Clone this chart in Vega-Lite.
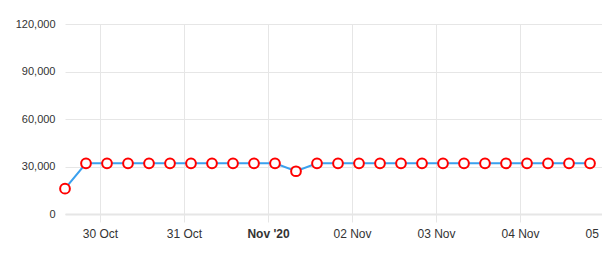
{
  "$schema": "https://vega.github.io/schema/vega-lite/v6.json",
  "autosize": {"type": "none"},
  "padding": {"left": 65, "top": 24, "right": 0, "bottom": 45},
  "width": 537,
  "height": 190,
  "background": "white",
  "config": {
    "view": {"stroke": null},
    "font": "Liberation Sans"
  },
  "data": {
    "values": [
      {"t": "2020-10-29T14:00:00Z", "v": 16000},
      {"t": "2020-10-29T20:00:00Z", "v": 32000},
      {"t": "2020-10-30T02:00:00Z", "v": 32000},
      {"t": "2020-10-30T08:00:00Z", "v": 32000},
      {"t": "2020-10-30T14:00:00Z", "v": 32000},
      {"t": "2020-10-30T20:00:00Z", "v": 32000},
      {"t": "2020-10-31T02:00:00Z", "v": 32000},
      {"t": "2020-10-31T08:00:00Z", "v": 32000},
      {"t": "2020-10-31T14:00:00Z", "v": 32000},
      {"t": "2020-10-31T20:00:00Z", "v": 32000},
      {"t": "2020-11-01T02:00:00Z", "v": 32000},
      {"t": "2020-11-01T08:00:00Z", "v": 27000},
      {"t": "2020-11-01T14:00:00Z", "v": 32000},
      {"t": "2020-11-01T20:00:00Z", "v": 32000},
      {"t": "2020-11-02T02:00:00Z", "v": 32000},
      {"t": "2020-11-02T08:00:00Z", "v": 32000},
      {"t": "2020-11-02T14:00:00Z", "v": 32000},
      {"t": "2020-11-02T20:00:00Z", "v": 32000},
      {"t": "2020-11-03T02:00:00Z", "v": 32000},
      {"t": "2020-11-03T08:00:00Z", "v": 32000},
      {"t": "2020-11-03T14:00:00Z", "v": 32000},
      {"t": "2020-11-03T20:00:00Z", "v": 32000},
      {"t": "2020-11-04T02:00:00Z", "v": 32000},
      {"t": "2020-11-04T08:00:00Z", "v": 32000},
      {"t": "2020-11-04T14:00:00Z", "v": 32000},
      {"t": "2020-11-04T20:00:00Z", "v": 32000}
    ]
  },
  "encoding": {
    "x": {
      "field": "t",
      "type": "temporal",
      "title": null,
      "scale": {
        "type": "utc",
        "domain": ["2020-10-29T14:00:00Z", "2020-11-05T00:00:00Z"],
        "range": [0, 539],
        "nice": false
      },
      "axis": {
        "tickCount": {"interval": "day", "step": 1},
        "labelExpr": "utcdate(datum.value) == 1 ? utcFormat(datum.value, \"%b '%y\") : utcFormat(datum.value, '%d %b')",
        "labelFontWeight": {"condition": {"test": "utcdate(datum.value) == 1", "value": "bold"}, "value": "normal"},
        "labelFontSize": 12,
        "labelColor": "#333333",
        "labelPadding": 6,
        "labelFlush": false,
        "labelOverlap": false,
        "grid": true,
        "gridColor": "#e6e6e6",
        "gridWidth": 1,
        "ticks": true,
        "tickSize": 8,
        "tickColor": "#e6e6e6",
        "tickWidth": 1,
        "domain": true,
        "domainColor": "#e6e6e6",
        "domainWidth": 2
      }
    },
    "y": {
      "field": "v",
      "type": "quantitative",
      "title": null,
      "scale": {"domain": [0, 120000], "nice": false},
      "axis": {
        "values": [0, 30000, 60000, 90000, 120000],
        "format": ",d",
        "labelFontSize": 11,
        "labelColor": "#333333",
        "labelPadding": 10,
        "ticks": false,
        "domain": false,
        "grid": true,
        "gridColor": "#e6e6e6",
        "gridWidth": 1
      }
    }
  },
  "layer": [
    {
      "mark": {"type": "line", "color": "#3aa0ee", "strokeWidth": 2, "clip": false}
    },
    {
      "mark": {"type": "point", "shape": "circle", "filled": true, "fill": "white", "stroke": "#ff0000", "strokeWidth": 2, "size": 95, "opacity": 1, "clip": false}
    }
  ]
}
